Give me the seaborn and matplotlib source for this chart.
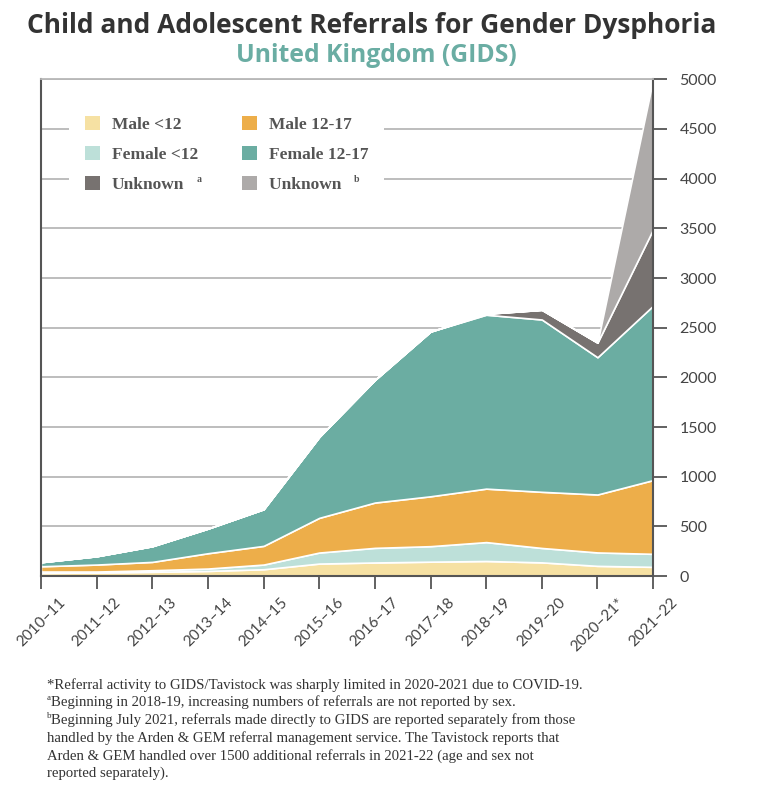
import matplotlib
matplotlib.use("Agg")
import pandas as pd
import matplotlib.pyplot as plt
from matplotlib.patches import Patch
import seaborn as sns

sns.set_theme(style="white")

# donnees (GIDS)
years = ["2010–11", "2011–12", "2012–13", "2013–14", "2014–15", "2015–16",
         "2016–17", "2017–18", "2018–19", "2019–20", "2020–21*", "2021–22"]
male_u12 = [33, 37, 44, 53, 70, 127, 138, 146, 153, 139, 104, 94]
female_u12 = [14, 10, 16, 24, 47, 111, 147, 156, 190, 145, 135, 131]
male_12_17 = [53, 70, 84, 154, 188, 349, 456, 502, 538, 565, 583, 742]
female_12_17 = [41, 84, 158, 248, 369, 815, 1234, 1658, 1750, 1734, 1381, 1755]
unknown_a = [0, 0, 0, 0, 0, 0, 0, 0, 10, 97, 147, 769]
unknown_b = [0, 0, 0, 0, 0, 0, 0, 0, 0, 0, 0, 1509]
yticks = [0, 500, 1000, 1500, 2000, 2500, 3000, 3500, 4000, 4500, 5000]

df = pd.DataFrame({"Male <12": male_u12, "Female <12": female_u12,
                   "Male 12-17": male_12_17, "Female 12-17": female_12_17,
                   "Unknown": unknown_a, "Unknown ": unknown_b}, index=years)

colors = ["#f6e1a3", "#bde0d9", "#edae4a", "#6badA2", "#777270", "#adaaa9"]

fig = plt.figure(figsize=(7.68, 7.85), dpi=100)
ax = fig.add_axes([0.0534, 0.266, 0.797, 0.633])

x = range(len(years))
ax.stackplot(x, df.T.values, colors=colors, edgecolor="white", linewidth=1.2, zorder=2)

ax.set_xlim(0, len(years) - 1)
ax.set_ylim(0, 5000)
ax.set_yticks(yticks)
ax.yaxis.tick_right()
ax.yaxis.grid(True, color="#b8b8b8", linewidth=1.3, zorder=0)
ax.set_axisbelow(True)
ax.set_xticks(list(x))
ax.set_xticklabels(years, rotation=45, ha="center")

ax.tick_params(axis="y", which="both", right=True, length=10, width=1.3, color="#555555",
               pad=9, labelsize=11.5, labelcolor="#444444")
ax.tick_params(axis="x", which="both", bottom=True, length=9, width=1.3, color="#555555",
               pad=5, labelsize=11, labelcolor="#444444")
for lab in ax.get_xticklabels() + ax.get_yticklabels():
    lab.set_family("Lato")

for side in ["left", "right", "bottom"]:
    ax.spines[side].set_color("#555555")
    ax.spines[side].set_linewidth(1.5)
ax.spines["top"].set_color("#b8b8b8")
ax.spines["top"].set_linewidth(1.3)

# legende : colonne 1 = <12 + unknown a, colonne 2 = 12-17 + unknown b
lab_idx = [0, 1, 4, 2, 3, 5]
labels = [df.columns[i] for i in lab_idx]
handles = [Patch(facecolor=colors[i], edgecolor="none") for i in lab_idx]
leg = ax.legend(handles, labels, ncol=2, loc="upper left", bbox_to_anchor=(0.032, 0.975),
                frameon=True, facecolor="white", edgecolor="none", framealpha=1,
                prop={"family": "Liberation Serif", "weight": "bold", "size": 12.5},
                handlelength=0.85, handleheight=0.85, handletextpad=0.7,
                labelspacing=0.75, columnspacing=2.55, borderpad=0.9)
for t in leg.get_texts():
    t.set_color("#555555")
leg.set_zorder(1)
# petits exposants a / b
fig.text(199 / 768, 1 - 180 / 785, "a", fontsize=7, color="#555555", weight="bold",
         family="Liberation Serif", ha="center", va="center")
fig.text(357 / 768, 1 - 180 / 785, "b", fontsize=7, color="#555555", weight="bold",
         family="Liberation Serif", ha="center", va="center")

fig.text(0.484, 0.968, "Child and Adolescent Referrals for Gender Dysphoria",
         ha="center", va="center", fontsize=19, fontweight="bold", color="#333333",
         family="Open Sans")
fig.text(0.49, 0.929, "United Kingdom (GIDS)", ha="center", va="center", fontsize=17.8,
         fontweight="bold", color="#6aada3", family="Open Sans")

notes = ["*Referral activity to GIDS/Tavistock was sharply limited in 2020-2021 due to COVID-19.",
         "Beginning in 2018-19, increasing numbers of referrals are not reported by sex.",
         "Beginning July 2021, referrals made directly to GIDS are reported separately from those",
         "handled by the Arden & GEM referral management service. The Tavistock reports that",
         "Arden & GEM handled over 1500 additional referrals in 2021-22 (age and sex not",
         "reported separately)."]
marks = ["", "a", "b", "", "", ""]
note_y = [685, 702, 720, 738, 756, 773]
for line, mk, yy in zip(notes, marks, note_y):
    x0 = 47
    if mk:
        fig.text(x0 / 768, 1 - (yy - 4) / 785, mk, fontsize=6.5, color="#333333",
                 family="Liberation Serif", ha="left", va="center")
        x0 = 51
    fig.text(x0 / 768, 1 - yy / 785, line, ha="left", va="center", fontsize=10.6,
             color="#333333", family="Liberation Serif")

fig.savefig("out.png", dpi=100)
